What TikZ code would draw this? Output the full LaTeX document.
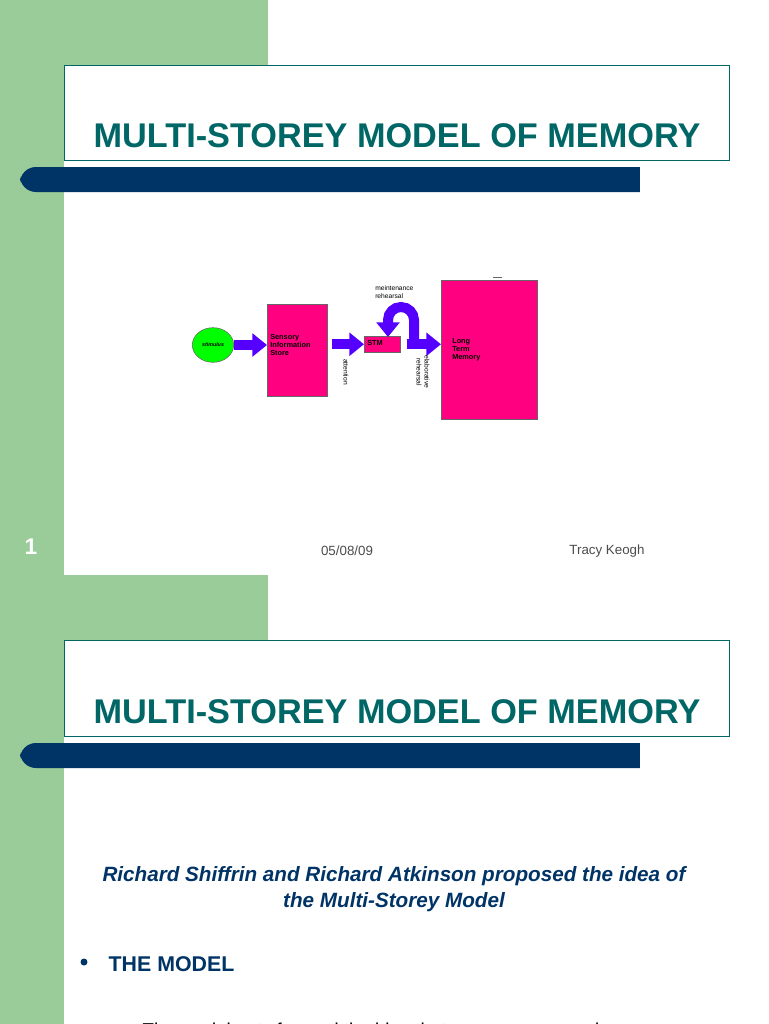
\documentclass[tikz,border=0pt]{standalone}
\usepackage{fontspec}
\setmainfont{Liberation Sans}
\usetikzlibrary{positioning, arrows.meta, shapes.geometric}
\definecolor{slidegreen}{RGB}{153,204,153}
\definecolor{titleteal}{RGB}{0,102,102}
\definecolor{barnavy}{RGB}{0,51,102}
\definecolor{boxpink}{RGB}{255,0,128}
\definecolor{arrowblue}{RGB}{85,0,255}
\begin{document}
\begin{tikzpicture}
        [x=0.75pt, y=-0.75pt,
         store/.style={draw=black!60, fill=boxpink, anchor=north west, inner sep=0pt},
         boxtext/.style={font=\fontsize{5.5}{6}\selectfont\bfseries, align=left, anchor=north west, inner sep=0pt},
         fat/.style={arrowblue, line width=7.5pt, -{Triangle[length=11pt,width=17pt]}},
         title/.style={font=\fontsize{25.7}{28}\selectfont\bfseries, text=titleteal},
         footer/.style={font=\fontsize{10}{12}\selectfont, text=black!70}]
        \useasboundingbox (0,0) rectangle (768,1024);
        \fill[white] (0,0) rectangle (768,1024);
        % green strips
        \fill[slidegreen] (0,0) rectangle (64,1024);
        \fill[slidegreen] (64,0) rectangle (268,65);
        \fill[slidegreen] (64,575) rectangle (268,640);

        % slide 1
        \draw[titleteal, fill=white] (64,65) rectangle (729,160);
        \node[title] (title1) at (397,136) {MULTI-STOREY MODEL OF MEMORY};
        \fill[barnavy, rounded corners=12pt] (20,167) rectangle (660,192);
        \fill[barnavy] (300,167) rectangle (640,192);
        \fill[white] (640,167) rectangle (661,193);

        \node[ellipse, draw=black!60, fill=green, minimum width=31pt, minimum height=26pt, inner sep=0pt,
              font=\fontsize{4}{5}\selectfont\bfseries\itshape] (stim) at (213,345) {stimulus};
        \node[store, minimum width=45pt, minimum height=69pt] (sis) at (267,304) {};
        \node[boxtext] at (270,334) {Sensory\\Information\\Store};
        \node[store, minimum width=27pt, minimum height=12pt] (stm) at (364,336) {};
        \node[boxtext] at (367,340) {STM};
        \node[store, minimum width=72pt, minimum height=104pt] (ltm) at (441,280) {};
        \node[boxtext] at (452,338) {Long\\Term\\Memory};
        \draw[black!60] (493,277) -- (502,277);

        \draw[fat] (stim) -- (sis.west |- stim);
        \draw[fat] (sis.east |- stm) ++(4,0) coordinate (a1) -- (stm.west);
        \coordinate (loopstart) at (414,345);
        \coordinate (loopend) at (388,337);
        \draw[fat] (loopstart) -- (414,320) arc[start angle=0, end angle=-180, radius=13] -- (loopend);
        \draw[fat] (stm.east) ++(6,0) -- (ltm.west |- stm.east);

        \node[font=\fontsize{5}{6}\selectfont, align=left, anchor=north west, inner sep=0pt] (maint) at (375,285) {meintenance\\rehearsal};
        \node[font=\fontsize{5}{6}\selectfont, rotate=-90] (attn) at (346,372) {attention};
        \node[font=\fontsize{5}{6}\selectfont, rotate=-90, align=center] (elab) at (423,372) {elaborative\\rehearsal};

        \node[font=\fontsize{17}{20}\selectfont\bfseries, text=white] (num) at (31,547) {1};
        \node[footer] (date) at (347,551) {05/08/09};
        \node[footer] (author) at (607,551) {Tracy Keogh};

        % slide 2
        \draw[titleteal, fill=white] (64,640) rectangle (729,736);
        \node[title] (title2) at (397,712) {MULTI-STOREY MODEL OF MEMORY};
        \fill[barnavy, rounded corners=12pt] (20,743) rectangle (660,768);
        \fill[barnavy] (300,743) rectangle (640,768);
        \fill[white] (640,743) rectangle (661,769);

        \node[font=\fontsize{15.5}{20}\selectfont\bfseries\itshape, text=barnavy, align=center] (intro) at (394,889)
            {Richard Shiffrin and Richard Atkinson proposed the idea of\\the Multi-Storey Model};
        \fill[barnavy] (84,962) circle (3.5);
        \node[font=\fontsize{16}{19}\selectfont\bfseries, text=barnavy, anchor=west] (model) at (104,964) {THE MODEL};
        \node[font=\fontsize{14}{17}\selectfont, anchor=west] (para) at (138,1032) {The model puts forward the idea that memory was made};
\end{tikzpicture}
\end{document}
